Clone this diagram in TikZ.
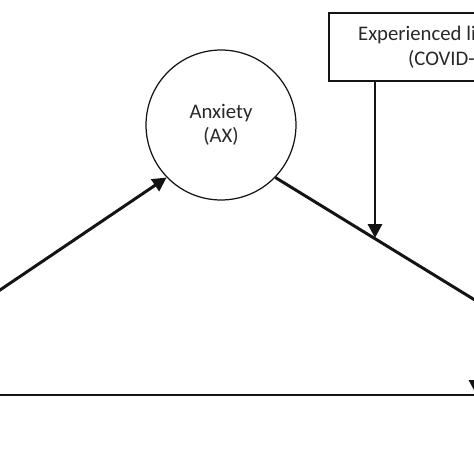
\documentclass[tikz,border=0pt]{standalone}
\usepackage{fontspec}
\setmainfont{Carlito}
\usetikzlibrary{arrows.meta,positioning,calc}
\definecolor{Ink}{RGB}{20,20,20}
\definecolor{TextGray}{RGB}{40,40,40}
\tikzset{
  >=Triangle,
  construct/.style={circle,draw=Ink,line width=.7pt,fill=white,align=center,text=TextGray,font=\fontsize{11.8}{14}\selectfont,minimum size=3cm,inner sep=0pt},
  moderator/.style={rectangle,draw=Ink,line width=1.3pt,fill=white,align=center,text=TextGray,font=\fontsize{11.8}{14.5}\selectfont,minimum height=1.36cm,inner xsep=.58cm},
  effect/.style={-{Triangle[length=2.8mm,width=2.8mm]},line width=1.7pt,draw=Ink},
  plainline/.style={line width=1.7pt,draw=Ink}
}
\begin{document}
\begin{tikzpicture}[x=.02cm,y=-.02cm]
  \useasboundingbox (0,0) rectangle (474,474);
  \clip (0,0) rectangle (474,474);
  % nodes
  \node[construct] (ax) at (221,125) {Anxiety\\(AX)};
  \node[moderator,anchor=west] (life) at (328,47) {Experienced life events\\(COVID-19)};
  % ends outside the frame
  \coordinate (xin) at (-40,317);
  \coordinate (yout) at (540,340);
  \coordinate (xin2) at (-40,395);
  \coordinate (yout2) at (540,395);
  \coordinate (moda) at (375,238);
  \coordinate (modc) at (476,394);
  % paths
  \draw[effect] (xin) -- (ax.224);
  \draw[plainline] (ax.316) -- (yout);
  \draw[plainline] (xin2) -- (yout2);
  \draw[effect] (life.south -| moda) -- (moda);
  \draw[effect] (life.south -| modc) -- (modc);
\end{tikzpicture}
\end{document}
